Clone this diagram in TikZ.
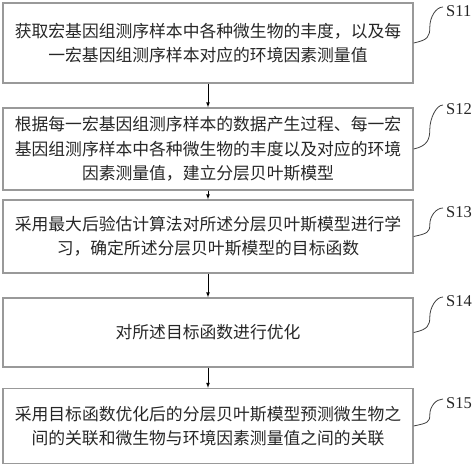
\documentclass[tikz,border=0pt]{standalone}
\usepackage{fontspec}
\setmainfont{Liberation Serif}
\newfontfamily\cjk{Noto Sans CJK SC}
\usetikzlibrary{arrows,calc}

\begin{document}
\begin{tikzpicture}[x=1pt,y=-1pt,
    stepbox/.style={draw=black!40, line width=1.3pt, minimum width=410pt, inner sep=0pt,
      align=center, text=black!85, font=\cjk\fontsize{16.8}{24.5}\selectfont},
    steplabel/.style={anchor=west, inner sep=0pt, text=black!85, font=\fontsize{16.5}{16.5}\selectfont},
    tagline/.style={draw=black!75, line width=0.8pt},
    flow/.style={->, >=latex, draw=black, line width=0.7pt}]
  \useasboundingbox (0,0) rectangle (474,466);

  \node[stepbox, minimum height=80pt] (S11box) at (208,43) {获取宏基因组测序样本中各种微生物的丰度，以及每\\一宏基因组测序样本对应的环境因素测量值};
  \node[stepbox, minimum height=82pt] (S12box) at (208,149) {根据每一宏基因组测序样本的数据产生过程、每一宏\\基因组测序样本中各种微生物的丰度以及对应的环境\\因素测量值，建立分层贝叶斯模型};
  \node[stepbox, minimum height=73pt] (S13box) at (208,236.5) {采用最大后验估计算法对所述分层贝叶斯模型进行学\\习，确定所述分层贝叶斯模型的目标函数};
  \node[stepbox, minimum height=69pt] (S14box) at (208,332.5) {对所述目标函数进行优化};
  \node[stepbox, minimum height=75pt] (S15box) at (208,426) {采用目标函数优化后的分层贝叶斯模型预测微生物之\\间的关联和微生物与环境因素测量值之间的关联};

  \draw[flow] (S11box) -- (S12box);
  \draw[flow] (S12box) -- (S13box);
  \draw[flow] (S13box) -- (S14box);
  \draw[flow] (S14box) -- (S15box);

  \node[steplabel] (S11) at (446,11) {S11};
  \node[steplabel] (S12) at (446,109) {S12};
  \node[steplabel] (S13) at (446,212) {S13};
  \node[steplabel] (S14) at (446,301) {S14};
  \node[steplabel] (S15) at (446,403) {S15};

  \draw[tagline] (S11box.east) .. controls +(14,-3) and +(0,10) .. ($(S11box.east)!0.5!(S11.west)$) .. controls +(0,-10) and +(-7,0) .. ([xshift=-3pt,yshift=4pt]S11.west);
  \draw[tagline] (S12box.east) .. controls +(14,-3) and +(0,10) .. ($(S12box.east)!0.5!(S12.west)$) .. controls +(0,-10) and +(-7,0) .. ([xshift=-3pt,yshift=4pt]S12.west);
  \draw[tagline] (S13box.east) .. controls +(14,-3) and +(0,8) .. ($(S13box.east)!0.5!(S13.west)$) .. controls +(0,-8) and +(-7,0) .. ([xshift=-3pt,yshift=4pt]S13.west);
  \draw[tagline] (S14box.east) .. controls +(14,-3) and +(0,9) .. ($(S14box.east)!0.5!(S14.west)$) .. controls +(0,-9) and +(-7,0) .. ([xshift=-3pt,yshift=4pt]S14.west);
  \draw[tagline] (S15box.east) .. controls +(14,-3) and +(0,8) .. ($(S15box.east)!0.5!(S15.west)$) .. controls +(0,-8) and +(-7,0) .. ([xshift=-3pt,yshift=4pt]S15.west);
\end{tikzpicture}
\end{document}
